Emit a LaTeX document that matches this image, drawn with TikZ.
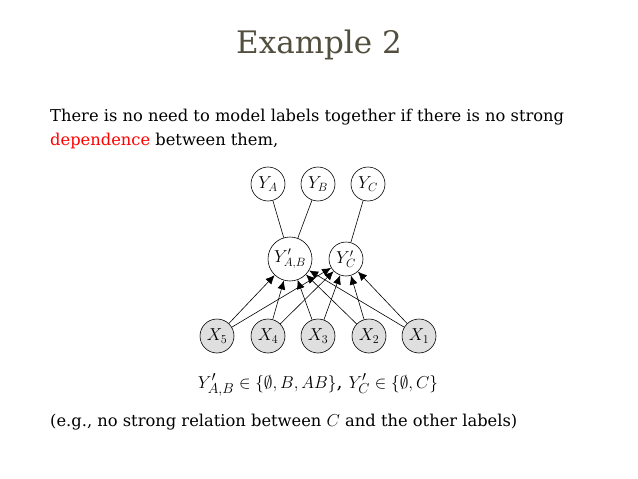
\documentclass[tikz,border=0pt]{standalone}
\usepackage{fontspec}
\setmainfont{DejaVu Serif}
\usetikzlibrary{arrows.meta}
\begin{document}
\begin{tikzpicture}[x=1pt,y=-1pt,
  lat/.style={circle,draw,semithick,minimum size=34pt,inner sep=0pt,font=\fontsize{18}{18}\selectfont},
  obs/.style={lat,fill=gray!25},
  arr/.style={-{Latex[length=9pt,width=8pt]},semithick}]
\useasboundingbox (0,0) rectangle (638,479);
\node[text=black!70!olive!80!gray] (title) at (319,45) {\fontsize{31}{31}\selectfont Example 2};
\node[anchor=west,align=left,font=\fontsize{16.3}{24}\selectfont,inner sep=0] (body) at (50,129) {There is no need to model labels together if there is no strong\\ \textcolor{red}{dependence} between them,};
\node[lat] (ya) at (268,184) {$Y_A$};
\node[lat] (yb) at (318,184) {$Y_B$};
\node[lat] (yc) at (368,184) {$Y_C$};
\node[lat,minimum size=44pt] (yab) at (290,259) {$Y'_{A,B}$};
\node[lat] (ycp) at (346,259) {$Y'_C$};
\foreach \n/\x/\i in {x5/217/5,x4/268/4,x3/318/3,x2/369/2,x1/419/1}{
  \node[obs] (\n) at (\x,336) {$X_\i$};
  \draw[arr] (\n) -- (yab);
  \draw[arr] (\n) -- (ycp);
}
\draw[semithick] (ya) -- (yab); \draw[semithick] (yb) -- (yab); \draw[semithick] (yc) -- (ycp);
\node[font=\fontsize{19}{19}\selectfont] (f) at (318,385) {$Y'_{A,B}\in\{\emptyset,B,AB\}$, $Y'_C\in\{\emptyset,C\}$};
\node[anchor=west,font=\fontsize{16.3}{17}\selectfont,inner sep=0] (n) at (50,422) {(e.g., no strong relation between $C$ and the other labels)};
\end{tikzpicture}
\end{document}
